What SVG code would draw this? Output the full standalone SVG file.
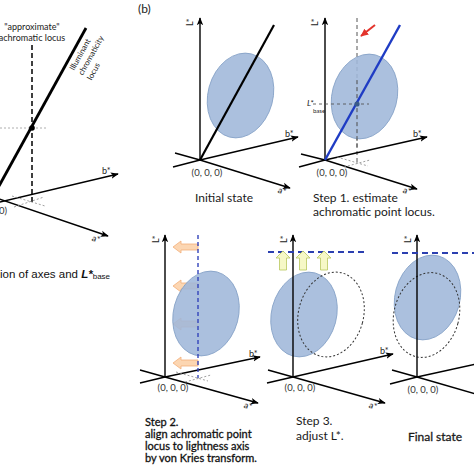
<svg xmlns="http://www.w3.org/2000/svg" width="474" height="474" viewBox="0 0 474 474">
<style>
text{font-family:Lato,"Open Sans",sans-serif;fill:#222}
.ax{stroke:#000;stroke-width:1.4;fill:none}
.axa{stroke:#000;stroke-width:1.4;fill:none;marker-end:url(#ah)}
.ell{fill:#9fb7d9;fill-opacity:0.88;stroke:#84a0c6;stroke-width:0.8}
.dotted{fill:none;stroke:#333;stroke-width:1;stroke-dasharray:2 2}
.lbl{font-size:9px}
.org{font-size:9.5px;fill:#333}
.cap{font-size:12px;fill:#1a1a1a}
.capb{font-size:11px;fill:#111;stroke:#111;stroke-width:0.3}
.proj{stroke:#888;stroke-width:0.8;stroke-dasharray:2 2;fill:none}
.arrO{fill:#fcd6b2;stroke:#f2ae7a;stroke-width:0.8}
.arrY{fill:#f6f8c6;stroke:#b9c85e;stroke-width:0.8}
.bd{stroke:#2b3fb0;stroke-dasharray:6 4;stroke-width:2;fill:none}
</style>
<defs>
<marker id="ah" viewBox="0 0 10 10" refX="9" refY="5" markerWidth="8" markerHeight="8" orient="auto" markerUnits="userSpaceOnUse"><path d="M0,1 L10,5 L0,9 L2.5,5z" fill="#000"/></marker>
<marker id="ahr" viewBox="0 0 10 10" refX="9" refY="5" markerWidth="8" markerHeight="8" orient="auto" markerUnits="userSpaceOnUse"><path d="M0,0.5 L10,5 L0,9.5 z" fill="#e3342c"/></marker>
</defs>

<g id="panel-a">
<line x1="32" y1="45" x2="32" y2="203" stroke="#000" stroke-width="1.5" stroke-dasharray="5 3"/>
<line x1="0" y1="128" x2="48" y2="128" stroke="#999" stroke-width="0.8" stroke-dasharray="2 2"/>
<line x1="86" y1="28" x2="-1" y2="186" stroke="#000" stroke-width="2.8"/>
<circle cx="32" cy="128" r="2.8" fill="#000"/>
<line class="axa" x1="-4" y1="203" x2="118" y2="174"/>
<line class="axa" x1="-4" y1="198" x2="108" y2="236"/>
<line class="proj" x1="12" y1="196" x2="45" y2="206"/>
<line class="proj" x1="14" y1="207" x2="44" y2="197"/>
<text class="lbl" x="102" y="174">b*</text>
<text class="lbl" x="92" y="242" transform="rotate(18 96 239)">a*</text>
<text class="org" x="-1" y="214">0)</text>
<text x="32" y="30" font-size="9" text-anchor="middle">"approximate"</text>
<text x="32" y="41" font-size="9" text-anchor="middle">achromatic locus</text>
<text font-size="8" transform="translate(74,71) rotate(-61)"><tspan x="0" y="0">Illuminant</tspan><tspan x="0" y="10">chromaticity</tspan><tspan x="0" y="20">locus</tspan></text>
<text x="0" y="278" style="font-family:'Liberation Sans',Arial,sans-serif;font-size:11.5px;fill:#111">ion of axes and <tspan font-weight="bold" font-style="italic">L*</tspan><tspan font-size="8" dy="1">base</tspan></text>
</g>

<text x="138" y="13" font-size="12">(b)</text>

<g id="initial-state">
<line class="axa" x1="200" y1="160" x2="200" y2="18"/>
<text class="lbl" transform="translate(193,26) rotate(-90)">L*</text>
<line class="ax" x1="175" y1="153" x2="200" y2="160"/>
<line class="axa" x1="200" y1="160" x2="290" y2="188"/>
<line class="ax" x1="173" y1="167" x2="200" y2="160"/>
<line class="axa" x1="200" y1="160" x2="298" y2="137"/>
<ellipse class="ell" cx="240.5" cy="95.5" rx="32.5" ry="43" transform="rotate(15 240.5 95.5)"/>
<line x1="200" y1="160" x2="274" y2="25" stroke="#000" stroke-width="2.2"/>
<text class="lbl" x="285" y="137">b*</text>
<text class="lbl" x="278" y="194" transform="rotate(18 282 191)">a*</text>
<text class="org" x="207" y="176" text-anchor="middle">(0, 0, 0)</text>
<text class="cap" x="224" y="202" text-anchor="middle">Initial state</text>
</g>

<g id="step1">
<line x1="357" y1="18" x2="357" y2="163" stroke="#555" stroke-width="1" stroke-dasharray="4 3"/>
<line class="axa" x1="325" y1="160" x2="325" y2="18"/>
<text class="lbl" transform="translate(318,26) rotate(-90)">L*</text>
<line class="ax" x1="301" y1="154" x2="325" y2="160"/>
<line class="axa" x1="325" y1="160" x2="417" y2="189"/>
<line class="ax" x1="299" y1="167" x2="325" y2="160"/>
<line class="axa" x1="325" y1="160" x2="427" y2="137"/>
<ellipse class="ell" cx="364.5" cy="96.5" rx="32.5" ry="43" transform="rotate(15 364.5 96.5)"/>
<line x1="357" y1="80" x2="357" y2="150" stroke="#555" stroke-width="1" stroke-dasharray="4 3"/>
<line x1="313" y1="104" x2="369" y2="104" stroke="#555" stroke-width="0.9" stroke-dasharray="3 3"/>
<line x1="325" y1="160" x2="400" y2="25" stroke="#1f3cc4" stroke-width="2.4"/>
<circle cx="357" cy="104" r="2.6" fill="#3a5a8a"/>
<line class="proj" x1="337" y1="157" x2="368" y2="166"/>
<line class="proj" x1="344" y1="167" x2="370" y2="160"/>
<line x1="375" y1="25" x2="361" y2="36" stroke="#e3342c" stroke-width="2" marker-end="url(#ahr)"/>
<text x="307" y="106" font-size="8.5" font-style="italic">L*</text>
<text x="313" y="113" font-size="6">base</text>
<text class="lbl" x="413" y="137">b*</text>
<text class="lbl" x="403" y="194" transform="rotate(18 407 191)">a*</text>
<text class="org" x="332" y="176" text-anchor="middle">(0, 0, 0)</text>
<text class="cap" x="313" y="202">Step 1. estimate</text>
<text class="cap" x="313" y="216">achromatic point locus.</text>
</g>

<g id="step2">
<line class="axa" x1="165" y1="377" x2="165" y2="235"/>
<text class="lbl" transform="translate(159,243) rotate(-90)">L*</text>
<line class="ax" x1="140" y1="370" x2="165" y2="377"/>
<line class="axa" x1="165" y1="377" x2="258" y2="403"/>
<line class="ax" x1="140" y1="383" x2="165" y2="377"/>
<line class="axa" x1="165" y1="377" x2="260" y2="357"/>
<path class="arrO" d="M173,247 L181,241 L181,244 L198,244 L198,250 L181,250 L181,253 Z"/>
<path class="arrO" d="M173,286 L181,280 L181,283 L198,283 L198,289 L181,289 L181,292 Z"/>
<path class="arrO" d="M173,324 L181,318 L181,321 L198,321 L198,327 L181,327 L181,330 Z"/>
<path class="arrO" d="M173,363 L181,357 L181,360 L198,360 L198,366 L181,366 L181,369 Z"/>
<ellipse class="ell" cx="206" cy="313.5" rx="32.5" ry="43" transform="rotate(15 206 313.5)"/>
<line x1="198" y1="235" x2="198" y2="378" stroke="#3344bb" stroke-width="1.4" stroke-dasharray="4 3"/>
<line class="proj" x1="176" y1="372" x2="208" y2="381"/>
<line class="proj" x1="185" y1="382" x2="211" y2="375"/>
<text class="lbl" x="249" y="357">b*</text>
<text class="lbl" x="244" y="409" transform="rotate(18 248 406)">a*</text>
<text class="org" x="173" y="391" text-anchor="middle">(0, 0, 0)</text>
<text class="capb" x="145" y="426">Step 2.</text>
<text class="capb" x="145" y="438">align achromatic point</text>
<text class="capb" x="145" y="450">locus to lightness axis</text>
<text class="capb" x="145" y="462" font-size="10.5">by von Kries transform.</text>
</g>

<g id="step3">
<ellipse class="ell" cx="304" cy="314.5" rx="32.5" ry="43" transform="rotate(15 304 314.5)"/>
<ellipse class="dotted" cx="331" cy="314.5" rx="32.5" ry="43" transform="rotate(15 331 314.5)"/>
<line class="axa" x1="293" y1="377" x2="293" y2="235"/>
<text class="lbl" transform="translate(287,243) rotate(-90)">L*</text>
<line class="ax" x1="268" y1="370" x2="293" y2="377"/>
<line class="axa" x1="293" y1="377" x2="385" y2="403"/>
<line class="ax" x1="267" y1="383" x2="293" y2="377"/>
<line class="axa" x1="293" y1="377" x2="393" y2="354"/>
<line class="bd" x1="268" y1="252" x2="364" y2="252"/>
<path class="arrY" d="M283,251 L290,258 L286.5,258 L286.5,270 L279.5,270 L279.5,258 L276,258 Z"/>
<path class="arrY" d="M303,251 L310,258 L306.5,258 L306.5,270 L299.5,270 L299.5,258 L296,258 Z"/>
<path class="arrY" d="M324,251 L331,258 L327.5,258 L327.5,270 L320.5,270 L320.5,258 L317,258 Z"/>
<text class="lbl" x="380" y="354">b*</text>
<text class="lbl" x="369" y="409" transform="rotate(18 373 406)">a*</text>
<text class="org" x="300" y="391" text-anchor="middle">(0, 0, 0)</text>
<text class="cap" x="296" y="425">Step 3.</text>
<text class="cap" x="296" y="440">adjust L*.</text>
</g>

<g id="final-state">
<ellipse class="ell" cx="427.5" cy="297.5" rx="32.5" ry="43" transform="rotate(15 427.5 297.5)"/>
<ellipse class="dotted" cx="426.5" cy="315" rx="32.5" ry="43" transform="rotate(15 426.5 315)"/>
<line class="axa" x1="417" y1="377" x2="417" y2="235"/>
<text class="lbl" transform="translate(411,243) rotate(-90)">L*</text>
<line class="ax" x1="392" y1="370" x2="417" y2="377"/>
<line class="ax" x1="417" y1="377" x2="476" y2="394"/>
<line class="ax" x1="390" y1="384" x2="417" y2="377"/>
<line class="ax" x1="417" y1="377" x2="476" y2="364"/>
<line class="bd" x1="392" y1="253" x2="474" y2="253"/>
<text class="org" x="423" y="393" text-anchor="middle">(0, 0, 0)</text>
<text class="cap" x="435" y="441" text-anchor="middle" style="font-size:12px;stroke:#1a1a1a;stroke-width:0.3">Final state</text>
</g>
</svg>
